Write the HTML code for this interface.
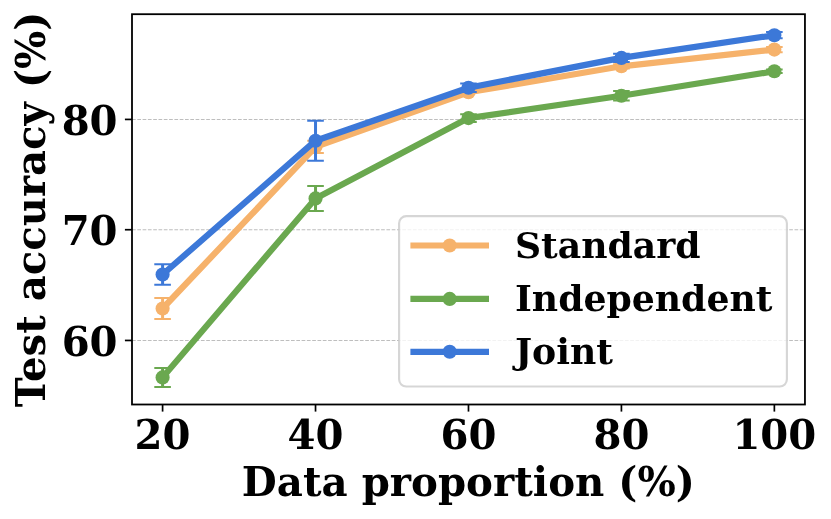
<!DOCTYPE html>
<html lang="en"><head><meta charset="utf-8"><title>Test accuracy vs data proportion</title>
<style>html,body{margin:0;padding:0;background:#fff}svg{display:block}text{font-family:"DejaVu Serif","Liberation Serif",serif;font-weight:bold;fill:#000}</style></head><body>
<svg width="831" height="519" viewBox="0 0 831 519">
<rect width="831" height="519" fill="#fff"/>
<line x1="132.0" x2="804.95" y1="119.42" y2="119.42" stroke="#b0b0b0" stroke-width="1.05" stroke-dasharray="3.7 1.6" stroke-opacity="0.82"/>
<line x1="132.0" x2="804.95" y1="229.72" y2="229.72" stroke="#b0b0b0" stroke-width="1.05" stroke-dasharray="3.7 1.6" stroke-opacity="0.82"/>
<line x1="132.0" x2="804.95" y1="340.45" y2="340.45" stroke="#b0b0b0" stroke-width="1.05" stroke-dasharray="3.7 1.6" stroke-opacity="0.82"/>
<line x1="162.59" x2="162.59" y1="404.5" y2="411.6" stroke="#000" stroke-width="1.7"/>
<line x1="315.53" x2="315.53" y1="404.5" y2="411.6" stroke="#000" stroke-width="1.7"/>
<line x1="468.48" x2="468.48" y1="404.5" y2="411.6" stroke="#000" stroke-width="1.7"/>
<line x1="621.42" x2="621.42" y1="404.5" y2="411.6" stroke="#000" stroke-width="1.7"/>
<line x1="774.36" x2="774.36" y1="404.5" y2="411.6" stroke="#000" stroke-width="1.7"/>
<line x1="124.9" x2="132.0" y1="119.42" y2="119.42" stroke="#000" stroke-width="1.7"/>
<line x1="124.9" x2="132.0" y1="229.72" y2="229.72" stroke="#000" stroke-width="1.7"/>
<line x1="124.9" x2="132.0" y1="340.45" y2="340.45" stroke="#000" stroke-width="1.7"/>
<defs><clipPath id="c"><rect x="132.0" y="14.2" width="672.95" height="390.3"/></clipPath></defs>
<g clip-path="url(#c)">
<g stroke="#f6b26b" fill="#f6b26b">
<line x1="162.59" x2="162.59" y1="298.10" y2="318.90" stroke-width="3.0"/>
<line x1="154.29" x2="170.89" y1="298.10" y2="298.10" stroke-width="2.0"/>
<line x1="154.29" x2="170.89" y1="318.90" y2="318.90" stroke-width="2.0"/>
<line x1="315.53" x2="315.53" y1="140.70" y2="153.00" stroke-width="3.0"/>
<line x1="307.23" x2="323.83" y1="140.70" y2="140.70" stroke-width="2.0"/>
<line x1="307.23" x2="323.83" y1="153.00" y2="153.00" stroke-width="2.0"/>
<line x1="468.48" x2="468.48" y1="91.70" y2="92.90" stroke-width="3.0"/>
<line x1="460.18" x2="476.78" y1="91.70" y2="91.70" stroke-width="2.0"/>
<line x1="460.18" x2="476.78" y1="92.90" y2="92.90" stroke-width="2.0"/>
<line x1="621.42" x2="621.42" y1="64.20" y2="68.40" stroke-width="3.0"/>
<line x1="613.12" x2="629.72" y1="64.20" y2="64.20" stroke-width="2.0"/>
<line x1="613.12" x2="629.72" y1="68.40" y2="68.40" stroke-width="2.0"/>
<line x1="774.36" x2="774.36" y1="46.90" y2="52.30" stroke-width="3.0"/>
<line x1="766.06" x2="782.66" y1="46.90" y2="46.90" stroke-width="2.0"/>
<line x1="766.06" x2="782.66" y1="52.30" y2="52.30" stroke-width="2.0"/>
<polyline points="162.59,308.50 315.53,146.85 468.48,92.30 621.42,66.30 774.36,49.60" fill="none" stroke-width="6.2" stroke-linejoin="round" stroke-linecap="square"/>
<circle cx="162.59" cy="308.50" r="7.05" stroke="none"/>
<circle cx="315.53" cy="146.85" r="7.05" stroke="none"/>
<circle cx="468.48" cy="92.30" r="7.05" stroke="none"/>
<circle cx="621.42" cy="66.30" r="7.05" stroke="none"/>
<circle cx="774.36" cy="49.60" r="7.05" stroke="none"/>
</g>
<g stroke="#6aa84f" fill="#6aa84f">
<line x1="162.59" x2="162.59" y1="367.90" y2="386.90" stroke-width="3.0"/>
<line x1="154.29" x2="170.89" y1="367.90" y2="367.90" stroke-width="2.0"/>
<line x1="154.29" x2="170.89" y1="386.90" y2="386.90" stroke-width="2.0"/>
<line x1="315.53" x2="315.53" y1="185.90" y2="210.90" stroke-width="3.0"/>
<line x1="307.23" x2="323.83" y1="185.90" y2="185.90" stroke-width="2.0"/>
<line x1="307.23" x2="323.83" y1="210.90" y2="210.90" stroke-width="2.0"/>
<line x1="468.48" x2="468.48" y1="114.25" y2="121.95" stroke-width="3.0"/>
<line x1="460.18" x2="476.78" y1="114.25" y2="114.25" stroke-width="2.0"/>
<line x1="460.18" x2="476.78" y1="121.95" y2="121.95" stroke-width="2.0"/>
<line x1="621.42" x2="621.42" y1="91.00" y2="100.40" stroke-width="3.0"/>
<line x1="613.12" x2="629.72" y1="91.00" y2="91.00" stroke-width="2.0"/>
<line x1="613.12" x2="629.72" y1="100.40" y2="100.40" stroke-width="2.0"/>
<line x1="774.36" x2="774.36" y1="69.60" y2="73.00" stroke-width="3.0"/>
<line x1="766.06" x2="782.66" y1="69.60" y2="69.60" stroke-width="2.0"/>
<line x1="766.06" x2="782.66" y1="73.00" y2="73.00" stroke-width="2.0"/>
<polyline points="162.59,377.40 315.53,198.40 468.48,118.10 621.42,95.70 774.36,71.30" fill="none" stroke-width="6.2" stroke-linejoin="round" stroke-linecap="square"/>
<circle cx="162.59" cy="377.40" r="7.05" stroke="none"/>
<circle cx="315.53" cy="198.40" r="7.05" stroke="none"/>
<circle cx="468.48" cy="118.10" r="7.05" stroke="none"/>
<circle cx="621.42" cy="95.70" r="7.05" stroke="none"/>
<circle cx="774.36" cy="71.30" r="7.05" stroke="none"/>
</g>
<g stroke="#3c78d8" fill="#3c78d8">
<line x1="162.59" x2="162.59" y1="264.20" y2="284.80" stroke-width="3.0"/>
<line x1="154.29" x2="170.89" y1="264.20" y2="264.20" stroke-width="2.0"/>
<line x1="154.29" x2="170.89" y1="284.80" y2="284.80" stroke-width="2.0"/>
<line x1="315.53" x2="315.53" y1="120.70" y2="160.70" stroke-width="3.0"/>
<line x1="307.23" x2="323.83" y1="120.70" y2="120.70" stroke-width="2.0"/>
<line x1="307.23" x2="323.83" y1="160.70" y2="160.70" stroke-width="2.0"/>
<line x1="468.48" x2="468.48" y1="83.50" y2="91.90" stroke-width="3.0"/>
<line x1="460.18" x2="476.78" y1="83.50" y2="83.50" stroke-width="2.0"/>
<line x1="460.18" x2="476.78" y1="91.90" y2="91.90" stroke-width="2.0"/>
<line x1="621.42" x2="621.42" y1="53.80" y2="62.00" stroke-width="3.0"/>
<line x1="613.12" x2="629.72" y1="53.80" y2="53.80" stroke-width="2.0"/>
<line x1="613.12" x2="629.72" y1="62.00" y2="62.00" stroke-width="2.0"/>
<line x1="774.36" x2="774.36" y1="32.10" y2="38.30" stroke-width="3.0"/>
<line x1="766.06" x2="782.66" y1="32.10" y2="32.10" stroke-width="2.0"/>
<line x1="766.06" x2="782.66" y1="38.30" y2="38.30" stroke-width="2.0"/>
<polyline points="162.59,274.50 315.53,140.70 468.48,87.70 621.42,57.90 774.36,35.20" fill="none" stroke-width="6.2" stroke-linejoin="round" stroke-linecap="square"/>
<circle cx="162.59" cy="274.50" r="7.05" stroke="none"/>
<circle cx="315.53" cy="140.70" r="7.05" stroke="none"/>
<circle cx="468.48" cy="87.70" r="7.05" stroke="none"/>
<circle cx="621.42" cy="57.90" r="7.05" stroke="none"/>
<circle cx="774.36" cy="35.20" r="7.05" stroke="none"/>
</g>
</g>
<rect x="132.0" y="14.2" width="672.95" height="390.3" fill="none" stroke="#000" stroke-width="1.8"/>
<rect x="399.1" y="216.1" width="387.79999999999995" height="170.4" rx="7.2" ry="7.2" fill="#fff" fill-opacity="0.8" stroke="#ccc" stroke-opacity="0.8" stroke-width="2.15"/>
<line x1="413.5" x2="485.9" y1="245.5" y2="245.5" stroke="#f6b26b" stroke-width="6.2" stroke-linecap="square"/>
<circle cx="449.7" cy="245.5" r="7.05" fill="#f6b26b"/>
<text x="514.9" y="258.2" font-size="36.2">Standard</text>
<line x1="413.5" x2="485.9" y1="298.9" y2="298.9" stroke="#6aa84f" stroke-width="6.2" stroke-linecap="square"/>
<circle cx="449.7" cy="298.9" r="7.05" fill="#6aa84f"/>
<text x="514.9" y="311.1" font-size="36.2">Independent</text>
<line x1="413.5" x2="485.9" y1="351.8" y2="351.8" stroke="#3c78d8" stroke-width="6.2" stroke-linecap="square"/>
<circle cx="449.7" cy="351.8" r="7.05" fill="#3c78d8"/>
<text x="514.9" y="364.0" font-size="36.2">Joint</text>
<text x="162.59" y="449.4" font-size="40.2" text-anchor="middle">20</text>
<text x="315.53" y="449.4" font-size="40.2" text-anchor="middle">40</text>
<text x="468.48" y="449.4" font-size="40.2" text-anchor="middle">60</text>
<text x="621.42" y="449.4" font-size="40.2" text-anchor="middle">80</text>
<text x="774.36" y="449.4" font-size="40.2" text-anchor="middle">100</text>
<text x="117.6" y="134.92" font-size="40.2" text-anchor="end">80</text>
<text x="117.6" y="245.22" font-size="40.2" text-anchor="end">70</text>
<text x="117.6" y="355.95" font-size="40.2" text-anchor="end">60</text>
<text x="468.3" y="496.0" font-size="40.3" text-anchor="middle">Data proportion (%)</text>
<text transform="translate(45.2 209.6) rotate(-90)" font-size="40.2" text-anchor="middle">Test accuracy (%)</text>
</svg></body></html>
